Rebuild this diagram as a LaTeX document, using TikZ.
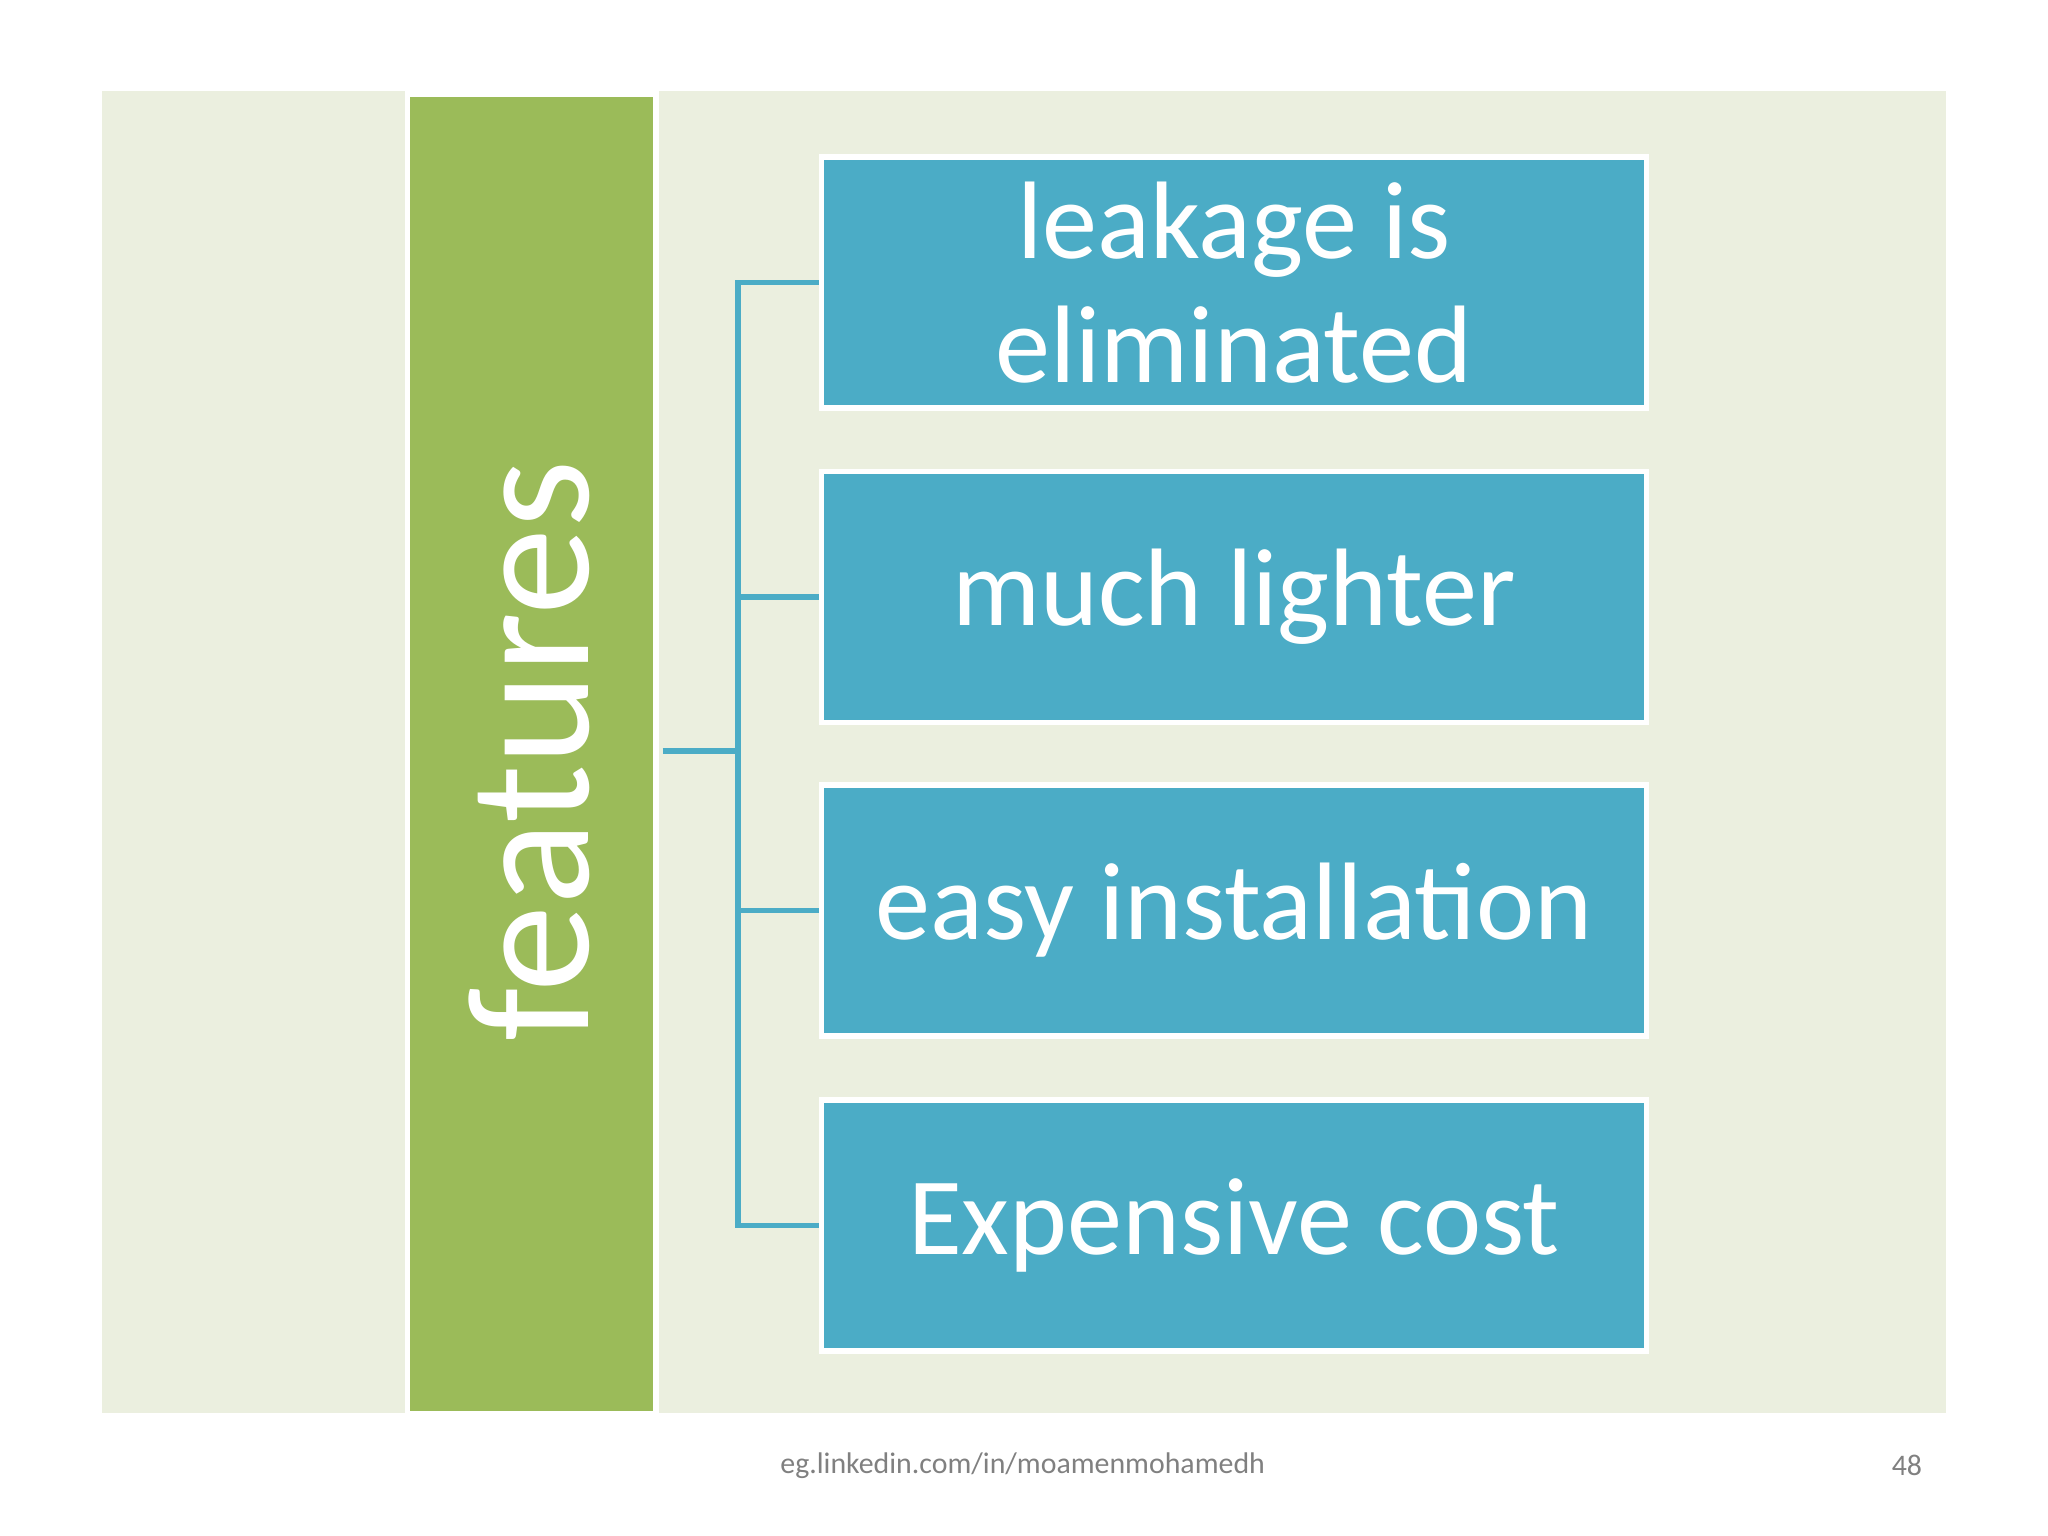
\documentclass[tikz,border=0pt]{standalone}
\usepackage{fontspec}
\setmainfont{Carlito}
\definecolor{bg}{HTML}{EBEFDF}
\definecolor{grn}{HTML}{9BBB59}
\definecolor{blu}{HTML}{4BACC6}
\begin{document}
\begin{tikzpicture}[x=0.01cm,y=-0.01cm,
  item/.style={draw=white,line width=1.2pt,fill=blu,minimum width=6.31cm,minimum height=1.92cm,text=white,font=\fontsize{24}{27}\selectfont,align=center,anchor=north west,inner sep=0pt},
  conn/.style={draw=blu,line width=1.2pt}]
\useasboundingbox (0,0) rectangle (1568,1176);
\fill[bg] (78,70) rectangle (1490,1082);
\node[draw=white,line width=1.2pt,fill=grn,minimum width=1.9cm,minimum height=10.1cm,anchor=north west,inner sep=0pt] (f) at (310,70) {};
\node[rotate=90,text=white,font=\fontsize{38}{40}\selectfont] at (405,575) {features};
\node[item] (b1) at (627,118) {leakage is\\eliminated};
\node[item] (b2) at (627,359) {much lighter};
\node[item] (b3) at (627,599) {easy installation};
\node[item] (b4) at (627,840) {Expensive cost};
\coordinate (j) at (565,575);
\draw[conn] (f.east |- j) ++(3,0) -- (j);
\draw[conn] (b1.west) -| (j);
\draw[conn] (b4.west) -| (j);
\draw[conn] (b2.west) -- (b2.west -| j);
\draw[conn] (b3.west) -- (b3.west -| j);
\node[text=gray,font=\fontsize{6.5}{8}\selectfont] (u) at (783,1122) {eg.linkedin.com/in/moamenmohamedh};
\node[text=gray,font=\fontsize{6.5}{8}\selectfont] (p) at (1460,1122) {48};
\end{tikzpicture}
\end{document}
